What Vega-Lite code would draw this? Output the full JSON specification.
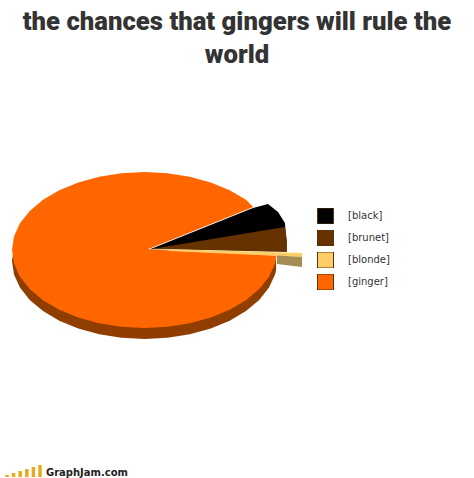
{
  "$schema": "https://vega.github.io/schema/vega-lite/v6.json",
  "description": "Exploded 3D style pie chart, slices as closed outlines in percent of pie radius.",
  "width": 474,
  "height": 478,
  "padding": 0,
  "autosize": "none",
  "background": "white",
  "title": {
    "text": ["the chances that gingers will rule the", "world"],
    "font": "Roboto",
    "fontWeight": 900,
    "fontSize": 25.7,
    "lineHeight": 33,
    "color": "#333333",
    "anchor": "middle",
    "frame": "group",
    "baseline": "alphabetic",
    "offset": 0,
    "dy": 89
  },
  "config": {"view": {"stroke": null}},
  "datasets": {
    "wall": [
      {"part": "ginger side", "seq": 1, "x": -98.5, "y": 3.4},
      {"part": "ginger side", "seq": 2, "x": -100, "y": -14},
      {"part": "ginger side", "seq": 3, "x": -98.5, "y": -31.4},
      {"part": "ginger side", "seq": 4, "x": -94, "y": -48.2},
      {"part": "ginger side", "seq": 5, "x": -86.6, "y": -64},
      {"part": "ginger side", "seq": 6, "x": -76.6, "y": -78.3},
      {"part": "ginger side", "seq": 7, "x": -64.3, "y": -90.6},
      {"part": "ginger side", "seq": 8, "x": -50, "y": -100.6},
      {"part": "ginger side", "seq": 9, "x": -34.2, "y": -108},
      {"part": "ginger side", "seq": 10, "x": -17.4, "y": -112.5},
      {"part": "ginger side", "seq": 11, "x": 0, "y": -114},
      {"part": "ginger side", "seq": 12, "x": 17.4, "y": -112.5},
      {"part": "ginger side", "seq": 13, "x": 34.2, "y": -108},
      {"part": "ginger side", "seq": 14, "x": 50, "y": -100.6},
      {"part": "ginger side", "seq": 15, "x": 64.3, "y": -90.6},
      {"part": "ginger side", "seq": 16, "x": 76.6, "y": -78.3},
      {"part": "ginger side", "seq": 17, "x": 86.6, "y": -64},
      {"part": "ginger side", "seq": 18, "x": 94, "y": -48.2},
      {"part": "ginger side", "seq": 19, "x": 98.5, "y": -31.4},
      {"part": "ginger side", "seq": 20, "x": 99.3, "y": -26.2},
      {"part": "ginger side", "seq": 21, "x": 99.3, "y": -12.2}
    ],
    "faces": [
      {"part": "[ginger]", "seq": 1, "x": 2.6, "y": 1},
      {"part": "[ginger]", "seq": 2, "x": 82, "y": 55},
      {"part": "[ginger]", "seq": 3, "x": 76.6, "y": 64.3},
      {"part": "[ginger]", "seq": 4, "x": 64.3, "y": 76.6},
      {"part": "[ginger]", "seq": 5, "x": 50, "y": 86.6},
      {"part": "[ginger]", "seq": 6, "x": 34.2, "y": 94},
      {"part": "[ginger]", "seq": 7, "x": 17.4, "y": 98.5},
      {"part": "[ginger]", "seq": 8, "x": 0, "y": 100},
      {"part": "[ginger]", "seq": 9, "x": -17.4, "y": 98.5},
      {"part": "[ginger]", "seq": 10, "x": -34.2, "y": 94},
      {"part": "[ginger]", "seq": 11, "x": -50, "y": 86.6},
      {"part": "[ginger]", "seq": 12, "x": -64.3, "y": 76.6},
      {"part": "[ginger]", "seq": 13, "x": -76.6, "y": 64.3},
      {"part": "[ginger]", "seq": 14, "x": -86.6, "y": 50},
      {"part": "[ginger]", "seq": 15, "x": -94, "y": 34.2},
      {"part": "[ginger]", "seq": 16, "x": -98.5, "y": 17.4},
      {"part": "[ginger]", "seq": 17, "x": -100, "y": 0},
      {"part": "[ginger]", "seq": 18, "x": -98.5, "y": -17.4},
      {"part": "[ginger]", "seq": 19, "x": -94, "y": -34.2},
      {"part": "[ginger]", "seq": 20, "x": -86.6, "y": -50},
      {"part": "[ginger]", "seq": 21, "x": -76.6, "y": -64.3},
      {"part": "[ginger]", "seq": 22, "x": -64.3, "y": -76.6},
      {"part": "[ginger]", "seq": 23, "x": -50, "y": -86.6},
      {"part": "[ginger]", "seq": 24, "x": -34.2, "y": -94},
      {"part": "[ginger]", "seq": 25, "x": -17.4, "y": -98.5},
      {"part": "[ginger]", "seq": 26, "x": 0, "y": -100},
      {"part": "[ginger]", "seq": 27, "x": 17.4, "y": -98.5},
      {"part": "[ginger]", "seq": 28, "x": 34.2, "y": -94},
      {"part": "[ginger]", "seq": 29, "x": 50, "y": -86.6},
      {"part": "[ginger]", "seq": 30, "x": 64.3, "y": -76.6},
      {"part": "[ginger]", "seq": 31, "x": 76.6, "y": -64.3},
      {"part": "[ginger]", "seq": 32, "x": 86.6, "y": -50},
      {"part": "[ginger]", "seq": 33, "x": 94, "y": -34.2},
      {"part": "[ginger]", "seq": 34, "x": 98.5, "y": -17.4},
      {"part": "[ginger]", "seq": 35, "x": 99.7, "y": -7},
      {"part": "[black]", "seq": 1, "x": 4.2, "y": 1},
      {"part": "[black]", "seq": 2, "x": 81.9, "y": 54},
      {"part": "[black]", "seq": 3, "x": 93.2, "y": 59},
      {"part": "[black]", "seq": 4, "x": 100.8, "y": 48.7},
      {"part": "[black]", "seq": 5, "x": 106, "y": 34.6},
      {"part": "[black]", "seq": 6, "x": 106.8, "y": 18},
      {"part": "[brunet]", "seq": 1, "x": 4.2, "y": 1},
      {"part": "[brunet]", "seq": 2, "x": 106, "y": 29.5},
      {"part": "[brunet]", "seq": 3, "x": 107.5, "y": 12.8},
      {"part": "[brunet]", "seq": 4, "x": 107.5, "y": -2.6},
      {"part": "[brunet]", "seq": 5, "x": 19.2, "y": 1},
      {"part": "[blonde]", "seq": 1, "x": 18.5, "y": 1},
      {"part": "[blonde]", "seq": 2, "x": 118.9, "y": -3.8},
      {"part": "[blonde]", "seq": 3, "x": 118.9, "y": -9},
      {"part": "[blonde]", "seq": 4, "x": 18.5, "y": -1.3}
    ],
    "blondeSide": [
      {"part": "blonde side", "seq": 1, "x": 100, "y": -7},
      {"part": "blonde side", "seq": 2, "x": 118.9, "y": -9},
      {"part": "blonde side", "seq": 3, "x": 118.9, "y": -21.8},
      {"part": "blonde side", "seq": 4, "x": 100, "y": -18}
    ],
    "bars": [
      {"step": 1, "level": 2},
      {"step": 2, "level": 4},
      {"step": 3, "level": 6},
      {"step": 4, "level": 8},
      {"step": 5, "level": 10},
      {"step": 6, "level": 12}
    ],
    "brand": [
      {"step": 6.9, "level": 1.5, "label": "GraphJam.com"}
    ]
  },
  "resolve": {"scale": {"x": "independent", "y": "independent"}},
  "layer": [
    {
      "encoding": {
        "x": {"field": "x", "type": "quantitative", "axis": null, "scale": {"domain": [-100, 100], "range": [12, 277], "nice": false, "zero": false}},
        "y": {"field": "y", "type": "quantitative", "axis": null, "scale": {"domain": [-100, 100], "range": [328, 172], "nice": false, "zero": false}},
        "order": {"field": "seq", "type": "quantitative"}
      },
      "layer": [
        {
          "data": {"name": "wall"},
          "mark": {"type": "line", "interpolate": "linear-closed", "fill": "#8f3e00", "stroke": null}
        },
        {
          "data": {"name": "faces"},
          "mark": {"type": "line", "filled": true, "interpolate": "linear-closed"},
          "encoding": {
            "color": {
              "field": "part",
              "type": "nominal",
              "sort": null,
              "title": null,
              "scale": {
                "domain": ["[black]", "[brunet]", "[blonde]", "[ginger]"],
                "range": ["#000000", "#663300", "#ffcc66", "#ff6600"]
              },
              "legend": {
                "orient": "none",
                "legendX": 317,
                "legendY": 208,
                "symbolType": "square",
                "symbolSize": 256,
                "symbolStrokeColor": "#553311",
                "symbolStrokeWidth": 1,
                "labelFont": "DejaVu Sans",
                "labelFontSize": 10,
                "labelColor": "#333333",
                "labelOffset": 14,
                "rowPadding": 6,
                "clipHeight": 16
              }
            }
          }
        },
        {
          "data": {"name": "blondeSide"},
          "mark": {"type": "line", "interpolate": "linear-closed", "fill": "#a58c55", "stroke": null}
        }
      ]
    },
    {
      "layer": [
        {
          "data": {"name": "bars"},
          "mark": {"type": "rule", "strokeWidth": 3.5, "color": "#e8a820"},
          "encoding": {
            "x": {"field": "step", "type": "quantitative", "axis": null, "scale": {"domain": [1, 6], "range": [7, 40], "nice": false, "zero": false}},
            "y": {"field": "level", "type": "quantitative", "axis": null, "scale": {"domain": [0, 12], "range": [477, 465], "nice": false}},
            "y2": {"datum": 0}
          }
        },
        {
          "data": {"name": "brand"},
          "mark": {"type": "text", "align": "left", "baseline": "alphabetic", "font": "DejaVu Sans", "fontWeight": "bold", "fontSize": 10, "color": "#222222"},
          "encoding": {
            "x": {"field": "step", "type": "quantitative", "axis": null},
            "y": {"field": "level", "type": "quantitative", "axis": null},
            "text": {"field": "label"}
          }
        }
      ]
    }
  ]
}
